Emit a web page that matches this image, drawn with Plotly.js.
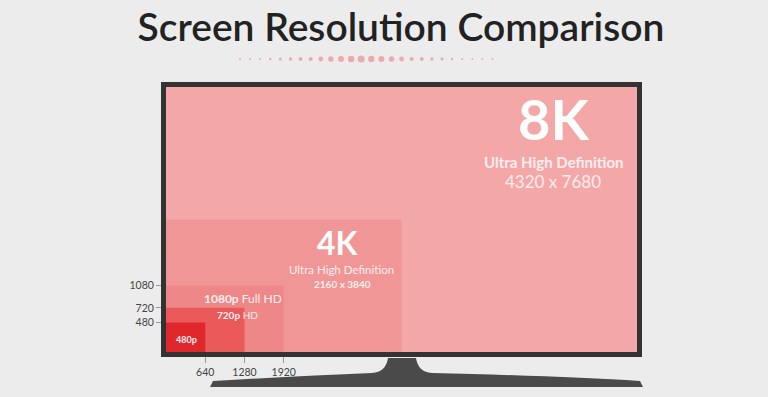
<!DOCTYPE html>
<html>
<head>
<meta charset="utf-8">
<script src="https://cdn.plot.ly/plotly-3.0.1.min.js"></script>
<style>html,body{margin:0;padding:0;background:#ececec;}#chart{width:768px;height:397px;}</style>
</head>
<body>
<div id="chart"></div>
<script>
// ---- data ----
const formats = ["8K", "4K", "1080p", "720p", "480p"];
const widths  = [7680, 3840, 1920, 1280, 640];
const heights = [4320, 2160, 1080, 720, 480];
const fillColors = ["#f4a7a7", "#f09696", "#ee8787", "#ea5a5a", "#e0282c"];
const xTicks = [640, 1280, 1920];
const yTicks = [480, 720, 1080];
const titleText = "Screen Resolution Comparison";

// ---- geometry of the screen (plot area, in page pixels) ----
const L = 166, R = 637, T = 87, B = 352;
const W = R - L, H = B - T;
const px = x => (x - L) / W;
const py = y => (B - y) / H;

const shapes = [];
// resolution rectangles through the data axes
for (let i = 0; i < formats.length; i++) {
  shapes.push({type: "rect", xref: "x", yref: "y", x0: 0, x1: widths[i], y0: 0, y1: heights[i],
    fillcolor: fillColors[i], line: {width: 0}, layer: "below"});
}
// TV frame
shapes.push({type: "rect", xref: "paper", yref: "paper",
  x0: px(163.5), x1: px(639.5), y0: py(354.5), y1: py(84.5),
  line: {color: "#333333", width: 5}, fillcolor: "rgba(0,0,0,0)", layer: "above"});
// stand
const standPts = [
  ["M", 210, 387], ["L", 213, 381], ["Q", 300, 376, 372, 373], ["Q", 386, 372, 388, 358],
  ["L", 416, 358], ["Q", 418, 372, 432, 373], ["Q", 560, 376, 640, 381], ["L", 643, 387]
];
let path = "";
standPts.forEach(p => {
  path += p[0] + " " + px(p[1]) + "," + py(p[2]) + " ";
  if (p.length > 3) path += px(p[3]) + "," + py(p[4]) + " ";
});
path += "Z";
shapes.push({type: "path", xref: "paper", yref: "paper", path: path,
  fillcolor: "#4a4a4a", line: {width: 0}, layer: "above"});
// decorative dotted rule under the title
const dotRadii = [1, 1, 1.1, 1.3, 1.5, 1.7, 1.9, 2.1, 2.4, 2.7, 3, 3.2, 3.5, 3.2, 3, 2.7, 2.4, 2.1, 1.9, 1.7, 1.5, 1.3, 1.1, 1, 1, 1];
dotRadii.forEach((r, i) => {
  const cx = 240 + i * 10.1, cy = 59;
  shapes.push({type: "circle", xref: "paper", yref: "paper",
    x0: px(cx - r), x1: px(cx + r), y0: py(cy + r), y1: py(cy - r),
    fillcolor: "#eea3a3", line: {width: 0}, opacity: 0.9});
});

const white = "#ffffff";
const soft = "#fdeeee";
const F = "Lato, 'Open Sans', sans-serif";
const ann = (x, y, text, size, color) => ({xref: "paper", yref: "paper", x: px(x), y: py(y),
  xanchor: "center", yanchor: "middle", showarrow: false, text: text,
  font: {family: F, size: size, color: color}});
const annotations = [
  ann(553, 118, "<b>" + formats[0] + "</b>", 56, white),
  ann(554, 162, "<b>Ultra High Definition</b>", 15, soft),
  ann(553, 181, heights[0] + " x " + widths[0], 17, soft),
  ann(338, 242, "<b>" + formats[1] + "</b>", 32, white),
  ann(341, 269, "Ultra High Definition", 11.5, soft),
  ann(342, 284, "<b>" + heights[1] + " x " + widths[1] + "</b>", 10, soft),
  ann(243, 298, "<b>" + formats[2] + "</b> Full HD", 12, soft),
  ann(237, 315, "<b>" + formats[3] + "</b> HD", 10, soft),
  ann(186, 339, "<b>" + formats[4] + "</b>", 9, soft)
];

const data = [{type: "scatter", x: widths, y: heights, mode: "markers",
  marker: {opacity: 0}, hoverinfo: "skip", showlegend: false}];

const layout = {
  width: 768, height: 397,
  margin: {l: L, r: 768 - R, t: T, b: 397 - B, pad: 0},
  paper_bgcolor: "#ececec", plot_bgcolor: fillColors[0],
  title: {text: titleText, xref: "container", yref: "container", x: 401 / 768, y: 1 - 27 / 397,
    xanchor: "center", yanchor: "middle",
    font: {family: F, size: 39, color: "#222222", weight: 600}},
  xaxis: {range: [0, widths[0]], tickvals: xTicks, ticktext: xTicks.map(String),
    ticks: "outside", ticklen: 10, tickcolor: "#9a9a9a", tickwidth: 1,
    showgrid: false, zeroline: false, showline: false, fixedrange: true,
    tickfont: {family: F, size: 10.5, color: "#444444"}},
  yaxis: {range: [0, heights[0]], tickvals: yTicks, ticktext: yTicks.map(String),
    ticks: "outside", ticklen: 9, tickcolor: "#9a9a9a", tickwidth: 1,
    showgrid: false, zeroline: false, showline: false, fixedrange: true,
    tickfont: {family: F, size: 10.5, color: "#444444"}},
  shapes: shapes,
  annotations: annotations,
  showlegend: false
};

Plotly.newPlot("chart", data, layout, {displayModeBar: false, staticPlot: true});
</script>
</body>
</html>
